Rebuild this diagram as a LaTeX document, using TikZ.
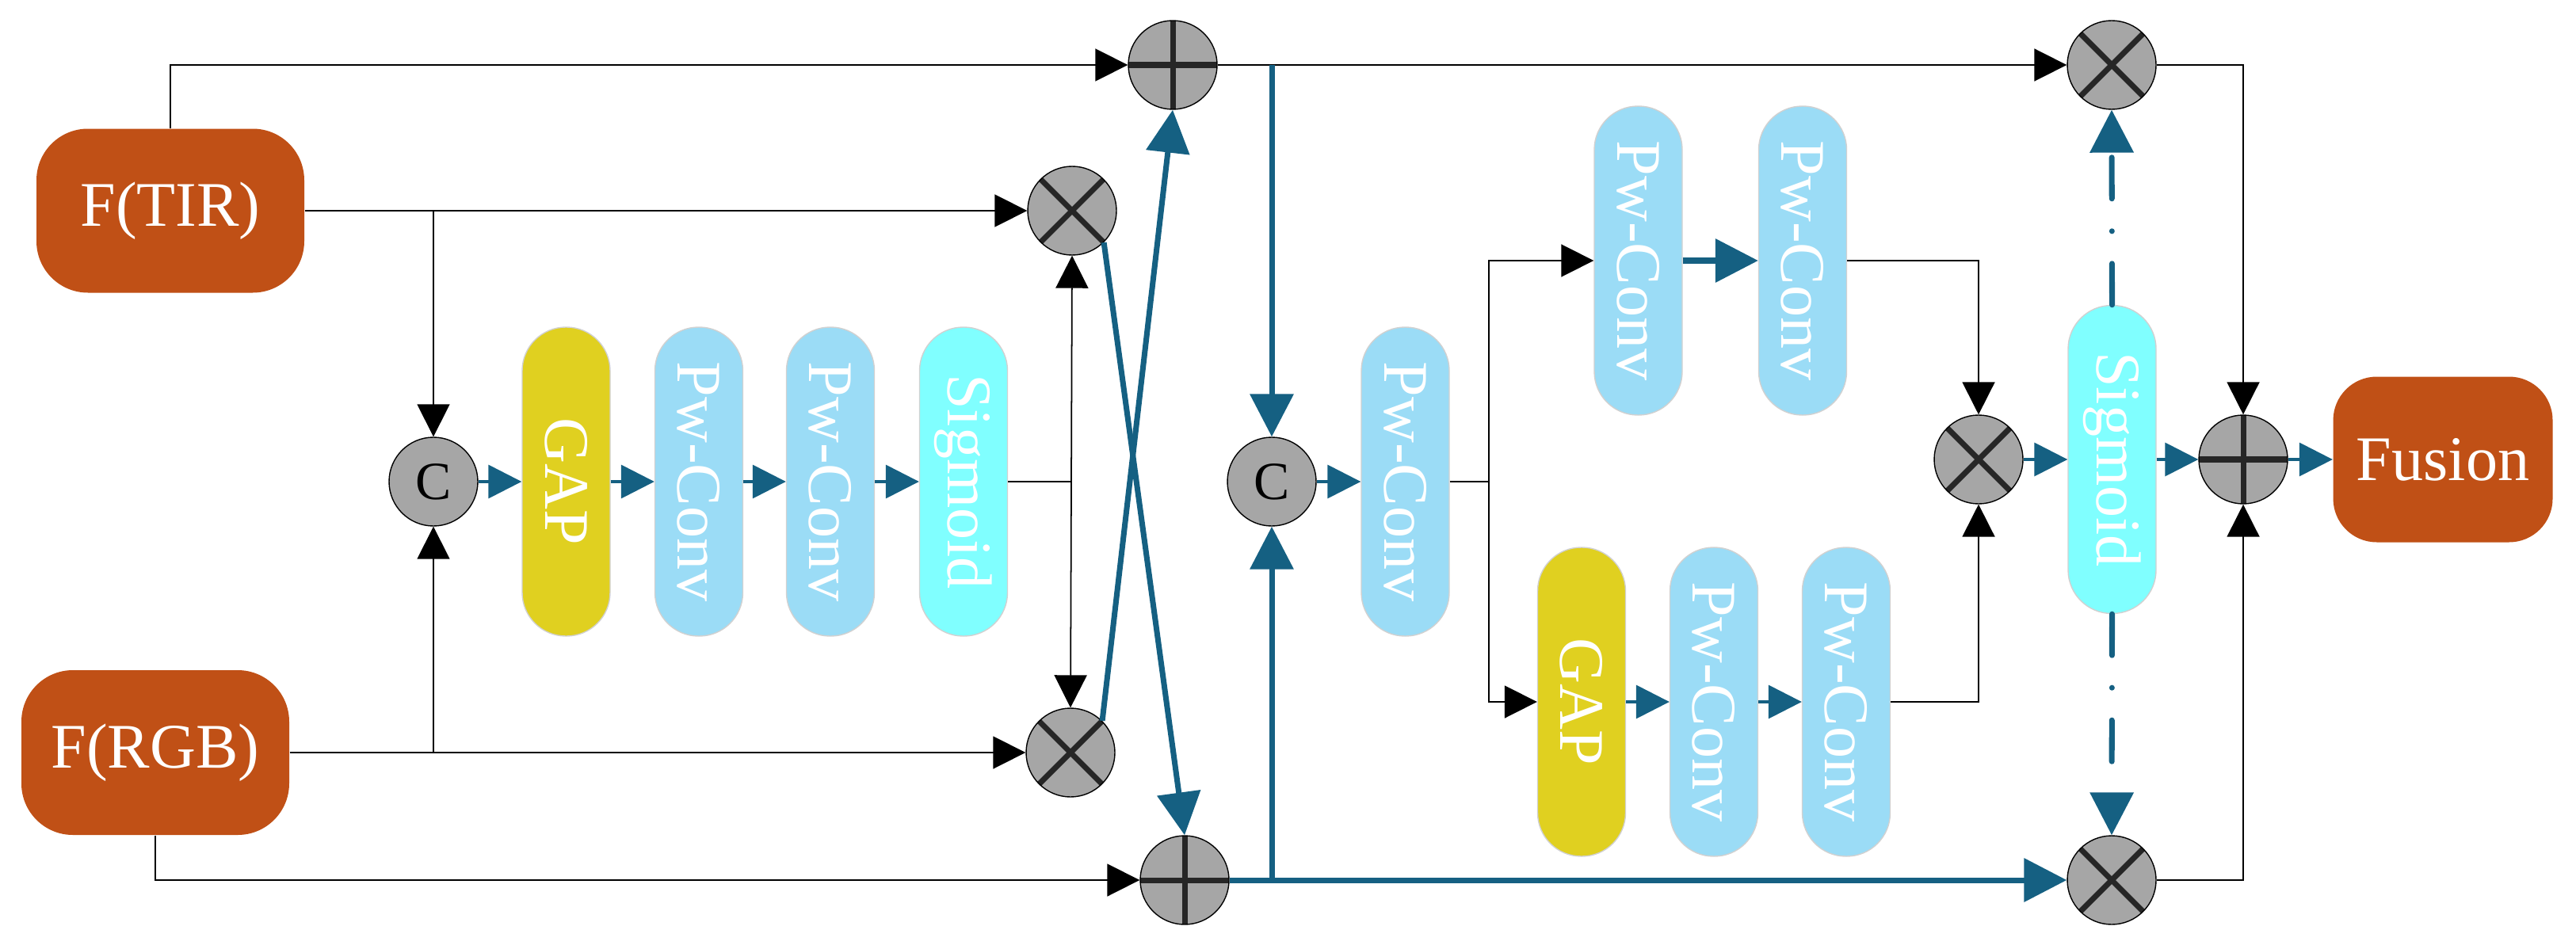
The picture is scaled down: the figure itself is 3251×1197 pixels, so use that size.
\documentclass[tikz,border=0pt]{standalone}
\usepackage{fontspec}
\setmainfont{Liberation Serif}
\usetikzlibrary{arrows.meta}
\definecolor{boxor}{HTML}{C05016}
\definecolor{gapy}{HTML}{E0D020}
\definecolor{pwb}{HTML}{9BDCF6}
\definecolor{sigc}{HTML}{80FFFF}
\definecolor{opg}{HTML}{A6A6A6}
\definecolor{arrb}{HTML}{156082}
\definecolor{strk}{HTML}{262626}
\begin{document}
\begin{tikzpicture}[x=0.1mm,y=-0.1mm,
  bigfont/.style={font=\fontsize{22.8}{27}\selectfont},
  iobox/.style={rectangle, rounded corners=6.5mm, fill=boxor, text=white, bigfont, inner sep=0pt},
  pill/.style={rectangle, rounded corners=5.5mm, minimum width=11.1mm, minimum height=39mm, text=white, bigfont, inner sep=0pt, draw=black!18, line width=0.4pt},
  gapp/.style={pill, fill=gapy},
  pwp/.style={pill, fill=pwb},
  sigp/.style={pill, fill=sigc},
  op/.style={circle, fill=opg, draw=black, line width=0.4pt, minimum size=11.2mm, inner sep=0pt},
  catop/.style={op, font=\fontsize{19.3}{22}\selectfont},
  plusop/.style={op, path picture={\draw[strk, line width=2pt] (path picture bounding box.north) -- (path picture bounding box.south) (path picture bounding box.west) -- (path picture bounding box.east);}},
  timesop/.style={op, path picture={\draw[strk, line width=2pt] (path picture bounding box.north east) -- (path picture bounding box.south west) (path picture bounding box.north west) -- (path picture bounding box.south east);}},
  thinline/.style={draw=black, line width=0.5pt},
  blk/.style={thinline, -{Triangle[length=4.1mm,width=4.1mm]}},
  bthin/.style={draw=arrb, line width=1pt, -{Triangle[length=4.2mm,width=4.2mm]}},
  bthick/.style={draw=arrb, line width=2pt, -{Triangle[length=5.4mm,width=5.4mm]}},
  bdashdot/.style={bthick, line cap=round, dash pattern=on 5.2mm off 4.1mm on 0mm off 4.1mm}
]
\useasboundingbox (0,0) rectangle (3251,1197);

% input / output boxes
\node[iobox, minimum width=33.8mm, minimum height=20.7mm] (tir) at (215,266) {F(TIR)};
\node[iobox, minimum width=33.8mm, minimum height=20.8mm] (rgb) at (196,950) {F(RGB)};
\node[iobox, rounded corners=5.5mm, minimum width=27.7mm, minimum height=20.9mm] (fus) at (3083,580) {Fusion};

% operators
\node[catop] (c1) at (547,608) {C};
\node[plusop] (p1) at (1480,82) {};
\node[timesop] (m1) at (1353,266) {};
\node[timesop] (m2) at (1351,950) {};
\node[plusop] (p2) at (1495,1111) {};
\node[catop] (c2) at (1605,608) {C};
\node[timesop] (m3) at (2497,580) {};
\node[plusop] (p3) at (2831,580) {};
\node[timesop] (m4) at (2665,82) {};
\node[timesop] (m5) at (2665,1111) {};

% left module pills
\node[gapp] (gap1) at (714.5,608) {\rotatebox{-90}{GAP}};
\node[pwp] (pwl1) at (882,608) {\rotatebox{-90}{Pw-Conv}};
\node[pwp] (pwl2) at (1048,608) {\rotatebox{-90}{Pw-Conv}};
\node[sigp] (sig1) at (1216,608) {\rotatebox{-90}{Sigmoid}};

% right module pills
\node[pwp] (pwc) at (1773.5,608) {\rotatebox{-90}{Pw-Conv}};
\node[pwp] (pwt1) at (2067.5,329) {\rotatebox{-90}{Pw-Conv}};
\node[pwp] (pwt2) at (2275,329) {\rotatebox{-90}{Pw-Conv}};
\node[gapp] (gap2) at (1996,886) {\rotatebox{-90}{GAP}};
\node[pwp] (pwb1) at (2163,886) {\rotatebox{-90}{Pw-Conv}};
\node[pwp] (pwb2) at (2330,886) {\rotatebox{-90}{Pw-Conv}};
\node[sigp, minimum height=38.9mm] (sig2) at (2665.5,580) {\rotatebox{-90}{Sigmoid}};

% junction coordinates
\coordinate (j1) at (547,266);
\coordinate (j2) at (547,950);
\coordinate (s1) at (1352,608);
\coordinate (v1) at (1605,82);
\coordinate (v2) at (1605,1111);
\coordinate (b0) at (1879,608);

% input connectors
\draw[blk] (tir.north) |- (p1.west);
\draw[blk] (rgb.south) |- (p2.west);
\draw[blk] (tir.east) -- (m1.west);
\draw[blk] (rgb.east) -- (m2.west);
\draw[blk] (j1) -- (c1.north);
\draw[blk] (j2) -- (c1.south);

% left chain
\draw[bthin] (c1) -- (gap1);
\draw[bthin] (gap1) -- (pwl1);
\draw[bthin] (pwl1) -- (pwl2);
\draw[bthin] (pwl2) -- (sig1);
\draw[thinline] (sig1.east) -- (s1);
\draw[blk] (s1) -- (m1.south);
\draw[blk] (s1) -- (m2.north);

% crossing
\draw[bthick] (m1.south east) -- (p2.north);
\draw[bthick] (m2.north east) -- (p1.south);

% sums onward
\draw[blk] (p1.east) -- (m4.west);
\draw[bthick] (v1) -- (c2.north);
\draw[bthick] (p2.east) -- (m5.west);
\draw[bthick] (v2) -- (c2.south);

% right module
\draw[bthin] (c2) -- (pwc);
\draw[thinline] (pwc.east) -- (b0);
\draw[blk] (b0) |- (pwt1.west);
\draw[blk] (b0) |- (gap2.west);
\draw[bthick] (pwt1) -- (pwt2);
\draw[bthin] (gap2) -- (pwb1);
\draw[bthin] (pwb1) -- (pwb2);
\draw[blk] (pwt2.east) -| (m3.north);
\draw[blk] (pwb2.east) -| (m3.south);
\draw[bthin] (m3) -- (sig2);
\draw[bthin] (sig2) -- (p3);
\draw[bthin] (p3) -- (fus);
\draw[bdashdot] (sig2.north) -- (m4.south);
\draw[bdashdot] (sig2.south) -- (m5.north);
\draw[blk] (m4.east) -| (p3.north);
\draw[blk] (m5.east) -| (p3.south);
\end{tikzpicture}
\end{document}
